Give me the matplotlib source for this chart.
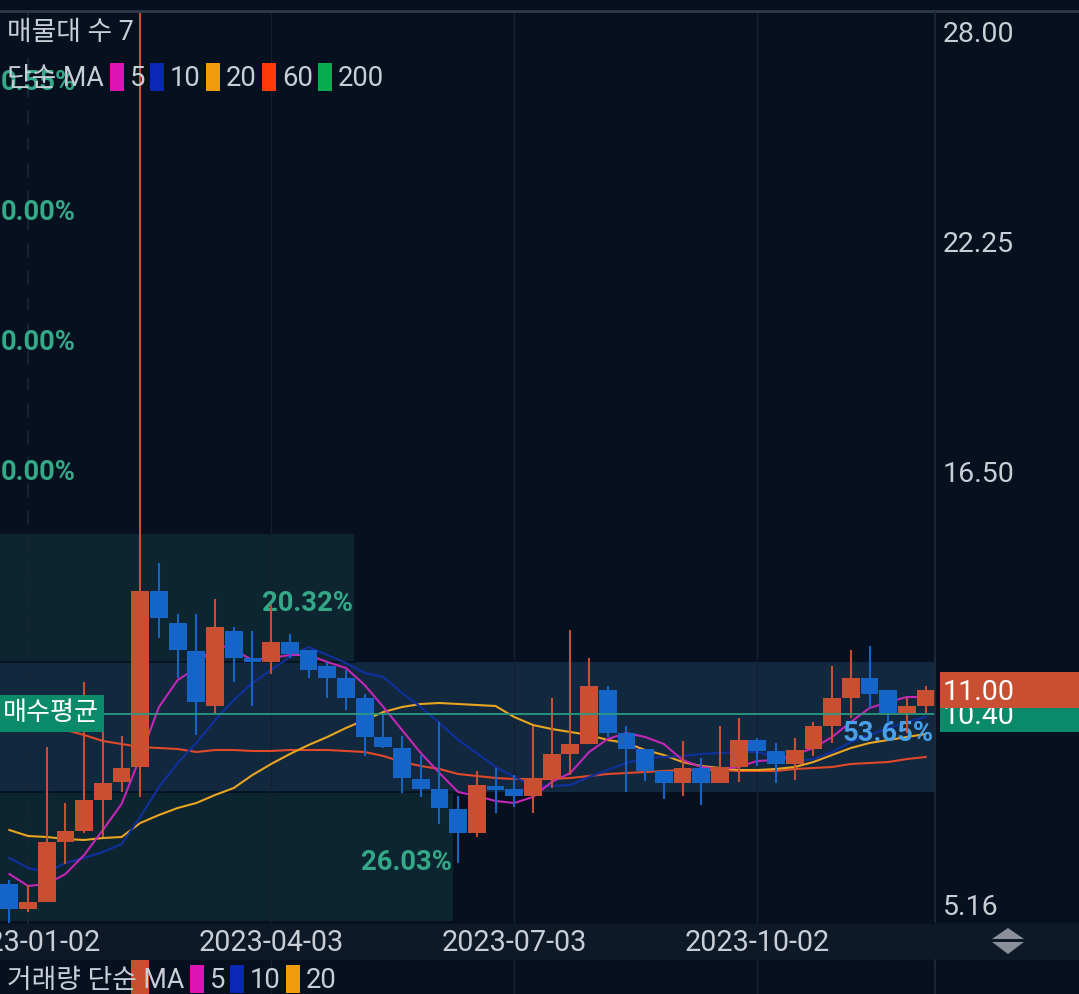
import matplotlib
matplotlib.use('Agg')
import matplotlib.pyplot as plt
from matplotlib.patches import Rectangle, Polygon
import numpy as np

plt.rcParams['font.family'] = ['Roboto', 'Noto Sans CJK KR', 'DejaVu Sans']

# weekly candles
opens = [6.15, 5.525, 5.70, 7.20, 7.475, 8.25, 8.70, 9.075, 13.475, 12.675,
         11.975, 10.60, 12.475, 11.80, 11.70, 12.20, 12.00, 11.60, 11.30, 10.80,
         9.825, 9.55, 8.775, 8.525, 8.025, 7.425, 8.60, 8.525, 8.35, 8.775,
         9.40, 9.65, 11.00, 9.925, 9.525, 8.975, 8.675, 9.05, 8.675, 9.075,
         9.75, 9.475, 9.15, 9.525, 10.10, 10.80, 11.30, 11.00, 10.425, 10.60]
closes = [5.525, 5.70, 7.20, 7.475, 8.25, 8.675, 9.05, 13.475, 12.80, 12.00,
          10.70, 12.575, 11.80, 11.70, 12.20, 11.90, 11.50, 11.30, 10.80, 9.825,
          9.575, 8.80, 8.525, 8.05, 7.425, 8.625, 8.50, 8.35, 8.80, 9.40,
          9.65, 11.10, 9.925, 9.525, 8.975, 8.675, 9.05, 8.675, 9.075, 9.75,
          9.475, 9.15, 9.50, 10.10, 10.80, 11.30, 10.90, 10.425, 10.60, 11.00]
highs = [6.25, 6.125, 9.575, 8.175, 11.20, 10.625, 9.85, 27.95, 14.175, 12.90,
         12.90, 13.275, 12.575, 12.475, 13.125, 12.40, 12.00, 11.70, 11.50, 10.90,
         10.375, 9.85, 9.375, 10.20, 8.35, 8.975, 9.05, 8.875, 10.10, 10.80,
         12.50, 11.80, 11.10, 10.10, 9.525, 8.975, 9.725, 9.30, 10.10, 10.30,
         9.80, 9.675, 9.80, 10.20, 11.60, 12.00, 12.10, 11.00, 10.80, 11.10]
lows = [5.175, 5.45, 5.70, 6.65, 7.425, 7.325, 8.45, 8.325, 12.30, 11.30,
        9.875, 10.425, 11.20, 10.60, 11.40, 11.80, 11.30, 10.80, 10.50, 9.35,
        9.55, 8.425, 8.325, 7.65, 6.675, 7.325, 7.925, 8.075, 7.925, 8.55,
        8.875, 9.65, 9.825, 8.45, 8.725, 8.275, 8.35, 8.125, 8.675, 8.70,
        9.10, 8.675, 8.75, 9.35, 9.675, 10.30, 10.55, 10.175, 9.925, 10.425]

ma5 = [6.40, 6.10, 6.15, 6.40, 6.875, 7.50, 8.15, 9.325, 10.575, 11.25,
       11.55, 12.175, 12.00, 11.75, 11.80, 11.875, 11.875, 11.70, 11.55, 11.125,
       10.575, 10.00, 9.425, 8.925, 8.45, 8.35, 8.225, 8.175, 8.325, 8.70,
       8.925, 9.45, 9.775, 9.925, 9.825, 9.65, 9.25, 9.075, 9.025, 9.075,
       9.225, 9.25, 9.375, 9.55, 9.825, 10.20, 10.55, 10.70, 10.825, 10.825]
ma10 = [6.80, 6.55, 6.45, 6.675, 6.80, 6.95, 7.15, 7.825, 8.575, 9.175,
        9.675, 10.25, 10.75, 11.175, 11.50, 11.825, 12.075, 11.875, 11.675, 11.425,
        11.325, 10.925, 10.575, 10.175, 9.75, 9.425, 9.075, 8.825, 8.60, 8.60,
        8.625, 8.825, 9.00, 9.175, 9.30, 9.325, 9.35, 9.40, 9.425, 9.45,
        9.45, 9.325, 9.225, 9.275, 9.45, 9.70, 9.875, 10.05, 10.20, 10.325]
ma20 = [7.50, 7.35, 7.325, 7.275, 7.25, 7.30, 7.325, 7.675, 7.875, 8.05,
        8.175, 8.375, 8.55, 8.875, 9.15, 9.40, 9.625, 9.825, 10.05, 10.25,
        10.45, 10.575, 10.65, 10.675, 10.65, 10.625, 10.60, 10.325, 10.125, 10.025,
        9.95, 9.875, 9.75, 9.675, 9.50, 9.375, 9.20, 9.10, 9.05, 9.00,
        9.00, 9.025, 9.075, 9.20, 9.375, 9.55, 9.675, 9.75, 9.825, 9.90]
ma60 = [np.nan, 10.125, 10.075, 10.00, 9.875, 9.725, 9.65, 9.575, 9.55, 9.525,
        9.45, 9.50, 9.50, 9.475, 9.475, 9.50, 9.50, 9.50, 9.475, 9.45,
        9.35, 9.20, 9.10, 9.025, 8.90, 8.85, 8.80, 8.775, 8.775, 8.775,
        8.80, 8.85, 8.90, 8.925, 8.95, 8.975, 9.00, 9.00, 9.00, 8.975,
        8.975, 8.975, 9.025, 9.05, 9.075, 9.15, 9.175, 9.20, 9.275, 9.325]

date_ticks = [1, 14, 27, 40]
date_labels = ['2023-01-02', '2023-04-03', '2023-07-03', '2023-10-02']
price_ticks = [28.00, 22.25, 16.50, 5.16]
price_labels = ['28.00', '22.25', '16.50', '5.16']
avg_price = 10.40
last_price = 11.00
volume_week = [7]
volume_value = [100]

BG = '#06101f'
RED = '#c94f32'
BLUE = '#1565c8'
GREEN_TXT = '#35a888'
GREY_TXT = '#c9ced6'
GRID = '#131f2f'
W, H = 1079, 994

fig = plt.figure(figsize=(W / 100, H / 100), dpi=100, facecolor=BG)
# strip that holds the date labels, under the main axes
fig.add_artist(Rectangle((0, 1 - 959 / H), 1, 36.5 / H, transform=fig.transFigure,
                         color='#0e1928', zorder=-1))

ax = fig.add_axes([0, 1 - 923.6 / H, 935 / W, 913.6 / H], facecolor=BG, zorder=1)
ax.set_xlim(-0.5, 49.5)
ax.set_ylim(5.16, 28)
for s in ax.spines.values():
    s.set_visible(False)

# zones behind the candles
ax.add_patch(Rectangle((-0.5, 11.70), 18.93, 3.20, color='#0d2530', lw=0, zorder=1))
ax.add_patch(Rectangle((-0.5, 5.225), 24.22, 3.225, color='#0d2530', lw=0, zorder=1))
ax.add_patch(Rectangle((-0.5, 8.45), 50, 3.25, color='#11283f', lw=0, zorder=1.1))
ax.axhline(11.70, color=BG, lw=1.2, xmax=18.93 / 50, zorder=1.2)
ax.axhline(8.45, color=BG, lw=1.2, xmax=24.22 / 50, zorder=1.2)

for t in date_ticks[1:]:
    ax.axvline(t, color=GRID, lw=1, zorder=1.5)
ax.axvline(date_ticks[0], color='#1b2838', lw=1.2, ls=(0, (8, 8)), zorder=1.5)

xs = np.arange(len(opens))
o, c, hi, lo = map(np.array, (opens, closes, highs, lows))
ax.plot(xs, ma60, color='#e0492a', lw=1.5, zorder=2)
ax.plot(xs, ma20, color='#eaa520', lw=1.5, zorder=2)
ax.plot(xs, ma10, color='#10309f', lw=1.5, zorder=2)
ax.plot(xs, ma5, color='#c327b5', lw=1.5, zorder=2)

# these two percent labels lie under the candles
ax.text(13.51, 13.175, '20.32%', color=GREEN_TXT, fontsize=19.7, fontweight='bold',
        va='center', zorder=2.5)
ax.text(44.53, 9.925, '53.65%', color='#4aa0e8', fontsize=19.7, fontweight='bold',
        va='center', zorder=2.5)

colors = [RED if a >= b else BLUE for a, b in zip(c, o)]
ax.vlines(xs, lo, hi, colors=colors, lw=1.5, zorder=3)
ax.bar(xs, np.abs(c - o), bottom=np.minimum(o, c), width=0.95, color=colors, zorder=3)

ax.axhline(avg_price, color='#2a9a80', lw=1.3, zorder=4)

ax.set_yticks([])
ax.set_xticks(date_ticks)
ax.set_xticklabels(date_labels, fontsize=20.7, color=GREY_TXT)
ax.tick_params(axis='x', length=0, pad=4)

# volume panel, only the tallest bar reaches into view
vol = fig.add_axes([0, 0, 935 / W, 34 / H], facecolor=BG, zorder=1)
vol.set_xlim(-0.5, 49.5)
vol.set_ylim(0, 100)
vol.axis('off')
for t in date_ticks[1:]:
    vol.axvline(t, color=GRID, lw=1)
vol.bar(volume_week, volume_value, width=0.95, color=RED)

# everything else sits on a pixel-sized overlay
ov = fig.add_axes([0, 0, 1, 1], zorder=5)
ov.patch.set_alpha(0)
ov.set_xlim(0, W)
ov.set_ylim(H, 0)
ov.axis('off')

ov.plot([0, W], [11, 11], color='#2e3a4b', lw=2)
ov.plot([935, 935], [12, 922], color='#1f2c3c', lw=1.2)
ov.plot([935, 935], [960, 994], color='#1f2c3c', lw=1.2)


def label(x, y, s, color=GREY_TXT, size=19.8, ha='left', weight='normal', z=3):
    ov.text(x, y + 2, s, color=color, fontsize=size, ha=ha, va='center',
            fontweight=weight, zorder=z)


for y, s in [(80, '0.55%'), (211, '0.00%'), (341, '0.00%'), (471, '0.00%')]:
    label(76, y, s, GREEN_TXT, 19.7, 'right', 'bold')
label(361, 861, '26.03%', GREEN_TXT, 19.7, weight='bold')

label(7, 31, '매물대 수 7', size=19.3)
label(7, 77, '단순 MA', size=19.3)
for sx, tx, col, s in [(110, 130, '#e014b4', '5'), (150, 170, '#0a28b8', '10'),
                       (206, 226, '#f09c0a', '20'), (262, 282, '#ff3a08', '60'),
                       (318, 338, '#08ad50', '200')]:
    ov.add_patch(Rectangle((sx, 63), 14, 28, color=col, lw=0))
    label(tx, 77, s)

label(7, 979, '거래량 단순 MA', size=19.3)
for sx, tx, col, s in [(190, 210, '#e014b4', '5'), (230, 250, '#0a28b8', '10'),
                       (286, 306, '#f09c0a', '20')]:
    ov.add_patch(Rectangle((sx, 965), 14, 28, color=col, lw=0))
    label(tx, 979, s)

# average price tag on the left
ov.add_patch(Rectangle((0, 695), 104, 37, color='#0b8a6a', lw=0))
label(3, 711, '매수평균', 'white', 18.8, weight='medium')

# price labels on the right, the two outer ones are pushed inwards
for p, s, dy in zip(price_ticks, price_labels, (-22, -2, -2, 18)):
    y = 690 + (last_price - p) * 40
    label(943, y - dy, s, GREY_TXT, 20.5)

ov.add_patch(Rectangle((940, 708), 139, 24, color='#0b8a6a', lw=0, zorder=3.1))
label(943, 690 + (last_price - avg_price) * 40, '%.2f' % avg_price, 'white', 20.5, z=3.2)
ov.add_patch(Rectangle((940, 672), 139, 36, color=RED, lw=0, zorder=3.3))
label(943, 690, '%.2f' % last_price, 'white', 20.5, z=3.4)

ov.add_patch(Polygon([(992, 939), (1008, 928), (1024, 939)], color='#8a8f99', lw=0))
ov.add_patch(Polygon([(992, 942), (1008, 954), (1024, 942)], color='#8a8f99', lw=0))

fig.savefig('out.png', dpi=100, facecolor=BG)
